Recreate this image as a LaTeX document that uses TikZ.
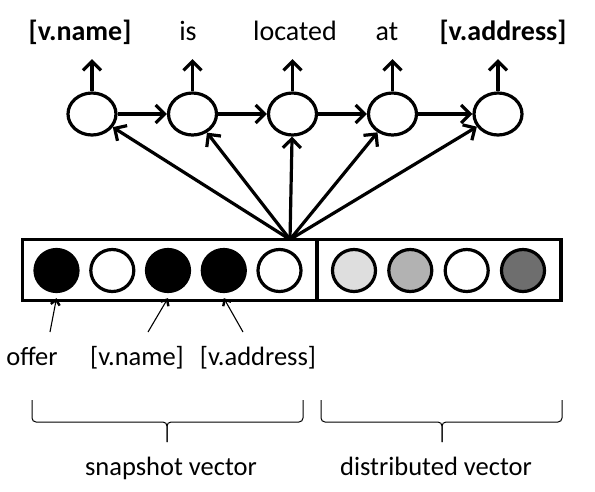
\documentclass[tikz,border=0pt]{standalone}
\usepackage{fontspec}
\setmainfont{Carlito}
\usetikzlibrary{shapes.geometric,arrows.meta}

\definecolor{lightcell}{gray}{0.87}
\definecolor{midcell}{gray}{0.70}
\definecolor{darkcell}{gray}{0.43}

\begin{document}
\begin{tikzpicture}[x=1pt,y=-1pt,
    hid/.style={ellipse,draw,line width=3.2pt,minimum width=48pt,minimum height=42pt,inner sep=0pt},
    cell/.style={ellipse,draw,line width=3.2pt,minimum width=43pt,minimum height=42pt,inner sep=0pt},
    arr/.style={line width=3.2pt,-{Straight Barb[length=9pt,width=18pt]}},
    ptr/.style={line width=1.1pt,-{Straight Barb[length=5pt,width=9pt,line width=2.4pt]}},
    word/.style={font=\fontsize{28}{32}\selectfont,inner sep=0pt,anchor=base,text height=20pt,text depth=7pt},
    tag/.style={font=\fontsize{26.5}{30}\selectfont,inner sep=0pt,anchor=base},
    brc/.style={line width=1pt,rounded corners=4pt}]
       \useasboundingbox(0,0)rectangle(595,491);
       % decoder states
       \node[hid](h1)at(92,114){};
       \node[hid](h2)at(192.5,114){};
       \node[hid](h3)at(292.5,114){};
       \node[hid](h4)at(392.5,114){};
       \node[hid](h5)at(498,114){};
       % output words
       \node[word](w1)at(80,40){\textbf{[v.name]}};
       \node[word](w2)at(188,40){is};
       \node[word](w3)at(295,40){located};
       \node[word](w4)at(387,40){at};
       \node[word](w5)at(503,40){\textbf{[v.address]}};
       \draw[arr,shorten >=12pt](h1)--(h1|-w1.south);
       \draw[arr,shorten >=12pt](h2)--(h2|-w2.south);
       \draw[arr,shorten >=12pt](h3)--(h3|-w3.south);
       \draw[arr,shorten >=12pt](h4)--(h4|-w4.south);
       \draw[arr,shorten >=12pt](h5)--(h5|-w5.south);
       \draw[arr](h1)--(h2);
       \draw[arr](h2)--(h3);
       \draw[arr](h3)--(h4);
       \draw[arr](h4)--(h5);
       % input vector
       \draw[line width=3.2pt](22.5,239.5)rectangle(561,300.5);
       \draw[line width=3.2pt](317,239.5)--(317,300.5);
       \coordinate(hub)at(290,239.5);
       \node[cell,fill=black](s1)at(56.5,270.5){};
       \node[cell](s2)at(112.3,270.5){};
       \node[cell,fill=black](s3)at(168,270.5){};
       \node[cell,fill=black](s4)at(223.8,270.5){};
       \node[cell](s5)at(279.5,270.5){};
       \node[cell,fill=lightcell](d1)at(354,270.5){};
       \node[cell,fill=midcell](d2)at(410.3,270.5){};
       \node[cell](d3)at(466.7,270.5){};
       \node[cell,fill=darkcell](d4)at(523,270.5){};
       \draw[arr](hub)--(h1);
       \draw[arr](hub)--(h2);
       \draw[arr](hub)--(h3);
       \draw[arr](hub)--(h4);
       \draw[arr](hub)--(h5);
       % slot labels
       \node[tag](l1)at(32,365){offer};
       \node[tag](l2)at(137,365){[v.name]};
       \node[tag](l3)at(258,365){[v.address]};
       \coordinate(t1)at(50,332);
       \coordinate(t2)at(148,332);
       \coordinate(t3)at(243,332);
       \draw[ptr](t1)--([yshift=-5pt]s1.south);
       \draw[ptr](t2)--([yshift=-5pt]s3.south);
       \draw[ptr](t3)--([yshift=-5pt]s4.south);
       % braces
       \draw[brc](32,400)--(32,422)--(167,422)--(167,442);
       \draw[brc](303,400)--(303,422)--(167,422)--(167,442);
       \draw[brc](321,400)--(321,422)--(442,422)--(442,442);
       \draw[brc](562,400)--(562,422)--(442,422)--(442,442);
       \node[tag](snap)at(171,475){snapshot vector};
       \node[tag](dist)at(436,475){distributed vector};
      \end{tikzpicture}
\end{document}
